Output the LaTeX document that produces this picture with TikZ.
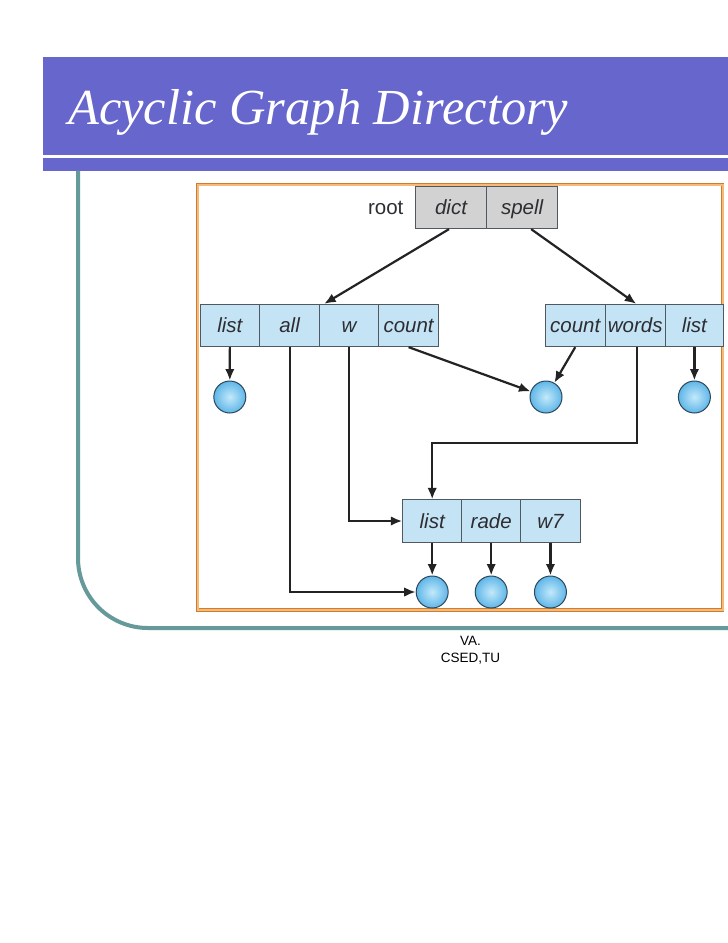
\documentclass[tikz,border=0pt]{standalone}
\usepackage{fontspec}
\setmainfont{Liberation Serif}
\setsansfont{Liberation Sans}
\usetikzlibrary{arrows.meta,calc}
\definecolor{bannerblue}{RGB}{102,102,204}
\definecolor{tealline}{RGB}{102,153,153}
\definecolor{frameout}{RGB}{205,125,50}
\definecolor{framein}{RGB}{245,185,120}
\definecolor{cellblue}{RGB}{196,228,245}
\definecolor{rootgray}{RGB}{210,210,210}
\definecolor{cellline}{RGB}{80,88,96}
\definecolor{ballin}{RGB}{195,233,250}
\definecolor{ballout}{RGB}{95,182,232}
\definecolor{balline}{RGB}{45,70,90}
\definecolor{conncol}{RGB}{35,35,35}
\definecolor{celltext}{RGB}{45,45,50}
\begin{document}
\begin{tikzpicture}[x=1pt,y=-1pt,
  cell/.style={rectangle, draw=cellline, line width=0.9pt, fill=cellblue,
    minimum height=42.4pt, inner sep=0pt, text height=15pt, text depth=1pt,
    text=celltext, font=\fontsize{20.5}{20}\selectfont\sffamily\itshape},
  rootcell/.style={cell, fill=rootgray},
  ball/.style={circle, draw=balline, line width=1pt, minimum size=32pt,
    inner sep=0pt, inner color=ballin, outer color=ballout},
  conn/.style={draw=conncol, line width=2.2pt, -{Latex[length=11.5pt,width=9.5pt]}}]
\useasboundingbox (0,0) rectangle (728,943);
\fill[white] (0,0) rectangle (728,943);
% banner
\fill[bannerblue] (43,57) rectangle (728,155);
\fill[bannerblue] (43,158.3) rectangle (728,170.7);
\node[anchor=base west, inner sep=0pt, text=white,
  font=\fontsize{50.5}{51}\selectfont\rmfamily\itshape] (title) at (68,124) {Acyclic Graph Directory};
% teal border
\draw[tealline, line width=4pt, rounded corners=70pt] (78,170.7) -- (78,628) -- (730,628);
% frame
\draw[draw=frameout, line width=0.8pt, double=framein, double distance=2pt] (197.5,184.5) rectangle (722.5,610);
% root
\node[inner sep=0pt, text height=15pt, text depth=1pt, font=\fontsize{20.5}{20}\selectfont\sffamily, text=celltext] (rootlbl) at (385.7,207.5) {root};
\node[rootcell, minimum width=71.7pt] (dict) at (451,207.5) {dict};
\node[rootcell, minimum width=70.6pt] (spell) at (522.15,207.5) {spell};
% left row
\node[cell, minimum width=59.5pt] (llist) at (229.85,325.5) {list};
\node[cell, minimum width=60pt] (lall) at (289.6,325.5) {all};
\node[cell, minimum width=59pt] (lw) at (349.1,325.5) {w};
\node[cell, minimum width=60pt] (lcount) at (408.6,325.5) {count};
% right row
\node[cell, minimum width=60.5pt] (rcount) at (575.25,325.5) {count};
\node[cell, minimum width=59.5pt] (words) at (635.25,325.5) {words};
\node[cell, minimum width=58.8pt] (rlist) at (694.4,325.5) {list};
% lower row
\node[cell, minimum width=59pt] (blist) at (432.2,521) {list};
\node[cell, minimum width=59pt] (rade) at (491.2,521) {rade};
\node[cell, minimum width=59.5pt] (w7) at (550.45,521) {w7};
% balls
\node[ball] (c1) at (229.8,397) {};
\node[ball] (c2) at (546,397) {};
\node[ball] (c3) at (694.4,397) {};
\node[ball] (c4) at (432.2,592) {};
\node[ball] (c5) at (491.2,592) {};
\node[ball] (c6) at (550.45,592) {};
% connectors
\draw[conn] ([xshift=-2pt]dict.south) -- ([xshift=5pt]lw.north west);
\draw[conn] ([xshift=9pt]spell.south) -- ([xshift=1pt]words.north);
\draw[conn] (llist.south) -- (c1);
\draw[conn] (lcount.south) -- (c2);
\draw[conn] (rcount.south) -- (c2);
\draw[conn] (rlist.south) -- (c3);
\draw[conn] (lall.south) |- (c4.west);
\draw[conn] (lw.south) |- (blist.west);
\coordinate (bend) at (blist.north |- 0,442.7);
\draw[conn] ([xshift=2pt]words.south) |- (bend) -- (blist.north);
\draw[conn] (blist.south) -- (c4);
\draw[conn] (rade.south) -- (c5);
\draw[conn] (w7.south) -- (c6);
% footer
\node[anchor=base, inner sep=0pt, font=\fontsize{13.5}{14}\selectfont\sffamily] (va) at (470.5,645) {VA.};
\node[anchor=base, inner sep=0pt, font=\fontsize{13.5}{14}\selectfont\sffamily] (csed) at (470.5,662) {CSED,TU};
\end{tikzpicture}
\end{document}
